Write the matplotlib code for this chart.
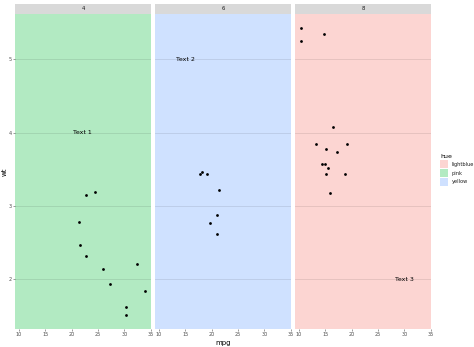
import matplotlib
matplotlib.use("Agg")
from matplotlib import pyplot as plt
from matplotlib.patches import Rectangle

# mtcars, split by cyl
cyl_levels = ["4", "6", "8"]
mpg_4 = [22.8, 24.4, 22.8, 32.4, 30.4, 33.9, 21.5, 27.3, 26.0, 30.4, 21.4]
wt_4 = [2.32, 3.19, 3.15, 2.2, 1.615, 1.835, 2.465, 1.935, 2.14, 1.513, 2.78]
mpg_6 = [21.0, 21.0, 21.4, 18.1, 19.2, 17.8, 19.7]
wt_6 = [2.62, 2.875, 3.215, 3.46, 3.44, 3.44, 2.77]
mpg_8 = [18.7, 14.3, 16.4, 17.3, 15.2, 10.4, 10.4, 14.7, 15.5, 15.2, 13.3, 19.2, 15.8, 15.0]
wt_8 = [3.44, 3.57, 4.07, 3.73, 3.78, 5.25, 5.424, 5.345, 3.52, 3.435, 3.84, 3.845, 3.17, 3.57]

hue_labels = ["lightblue", "pink", "yellow"]
hue_colors = ["#F8766D", "#00BA38", "#619CFF"]
panel_hue = [1, 2, 0]  # which hue each cyl panel is filled with

text_labels = ["Text 1", "Text 2", "Text 3"]
text_x = [22, 15, 30]
text_y = [4, 5, 2]

xticks = [10, 15, 20, 25, 30, 35]
yticks = [2, 3, 4, 5]

W, H = 474, 347
fig = plt.figure(figsize=(W / 100, H / 100), dpi=100)
fig.patch.set_facecolor("white")

xs = [mpg_4, mpg_6, mpg_8]
ys = [wt_4, wt_6, wt_8]
xlo, xhi = 10.4 - 1.175, 33.9 + 1.175
ylo, yhi = 1.513 - 0.1956, 5.424 + 0.1956

left_px = [15, 155, 295]
pw = 136
top, bot = 14, 329

for i in range(3):
    ax = fig.add_axes([left_px[i] / W, 1 - bot / H, pw / W, (bot - top) / H])
    ax.set_xlim(xlo, xhi)
    ax.set_ylim(ylo, yhi)
    ax.set_facecolor("white")
    ax.add_patch(Rectangle((xlo, ylo), xhi - xlo, yhi - ylo,
                           facecolor=hue_colors[panel_hue[i]], alpha=0.3,
                           edgecolor="none", zorder=1))
    for yv in yticks:
        ax.axhline(yv, color="black", alpha=0.1, lw=0.6, zorder=2)
    ax.scatter(xs[i], ys[i], s=4, color="black", zorder=3, linewidths=0)
    ax.text(text_x[i], text_y[i], text_labels[i], fontsize=4.5,
            ha="center", va="center", color="black", zorder=4)
    for s in ax.spines.values():
        s.set_visible(False)
    ax.set_xticks(xticks)
    ax.set_xticklabels([str(t) for t in xticks])
    ax.set_yticks(yticks)
    if i == 0:
        ax.set_yticklabels([str(t) for t in yticks])
        ax.tick_params(axis="y", length=1.5, width=0.4, colors="#4d4d4d",
                       labelsize=3.5, pad=1)
    else:
        ax.tick_params(axis="y", length=0, labelleft=False)
    ax.tick_params(axis="x", length=1.5, width=0.4, colors="#4d4d4d",
                   labelsize=3.5, pad=1)
    # facet strip
    sax = fig.add_axes([left_px[i] / W, 1 - top / H, pw / W, 10 / H])
    sax.set_facecolor("#D9D9D9")
    sax.set_xticks([])
    sax.set_yticks([])
    for s in sax.spines.values():
        s.set_visible(False)
    sax.text(0.5, 0.5, cyl_levels[i], fontsize=3.8, color="#1a1a1a",
             ha="center", va="center", transform=sax.transAxes)

fig.text(223 / W, 1 - 343 / H, "mpg", fontsize=5, ha="center", va="center")
fig.text(5 / W, 1 - 172 / H, "wt", fontsize=5, rotation=90, ha="center", va="center")

# legend
fig.text(440 / W, 1 - 157 / H, "hue", fontsize=4.5, ha="left", va="center")
for k in range(3):
    yc = 164 + 9 * k
    fig.patches.append(Rectangle((440 / W, 1 - (yc + 4) / H), 8 / W, 8 / H,
                                 facecolor=hue_colors[k], alpha=0.3,
                                 edgecolor="none", transform=fig.transFigure))
    fig.text(452 / W, 1 - yc / H, hue_labels[k], fontsize=3.6, color="#1a1a1a",
             ha="left", va="center")

fig.savefig("out.png", dpi=100)
